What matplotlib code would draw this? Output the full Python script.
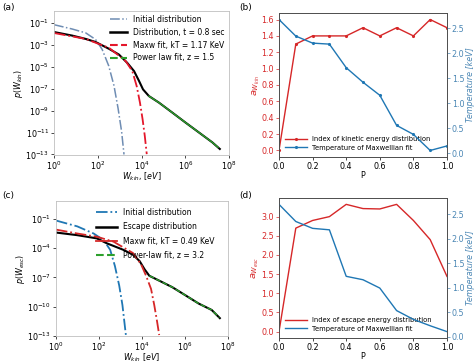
import numpy as np
import matplotlib
matplotlib.use('Agg')
import matplotlib.pyplot as plt
from matplotlib.lines import Line2D
from matplotlib.ticker import NullLocator

plt.rcParams['font.family'] = ['DejaVu Sans']
plt.rcParams['mathtext.fontset'] = 'dejavusans'

# ---------------- data (log10 values) ----------------
# (a) kinetic energy distribution
a_init_lx = [0, 0.84, 1.45, 1.9, 2.2, 2.5, 2.74, 2.93, 3.09, 3.2]
a_init_ly = [-1.15, -1.55, -1.9, -2.5, -3.4, -4.9, -6.7, -8.8, -10.9, -13.0]
a_dist_lx = [0, 0.84, 1.45, 1.9, 2.52, 2.97, 3.35, 3.66, 3.89, 4.07, 4.34, 4.8, 5.41, 6.02, 6.63, 7.24, 7.58]
a_dist_ly = [-1.82, -2.15, -2.45, -2.73, -3.36, -3.88, -4.64, -5.39, -6.3, -7.06, -7.67, -8.27, -9.18, -10.1, -11.0, -11.9, -12.5]
a_maxw_lx = [0, 1.45, 2.52, 3.28, 3.58, 3.78, 3.93, 4.05, 4.15, 4.24]
a_maxw_ly = [-1.91, -2.45, -3.27, -4.48, -5.39, -6.76, -8.27, -9.79, -11.3, -12.97]
a_pow_lx = [4.34, 4.8, 5.41, 6.02, 6.63, 7.24, 7.5]
a_pow_ly = [-7.67, -8.27, -9.18, -10.1, -11.0, -11.9, -12.35]

# (c) escape energy distribution
c_init_lx = [0, 0.99, 1.75, 2.21, 2.52, 2.74, 2.94, 3.09, 3.25]
c_init_ly = [-1.17, -1.77, -2.5, -3.17, -4.17, -5.83, -7.83, -9.83, -12.9]
c_esc_lx = [0, 0.99, 1.9, 2.36, 3.13, 3.58, 3.89, 4.12, 4.34, 4.8, 5.41, 6.02, 6.63, 7.24, 7.62]
c_esc_ly = [-2.4, -2.67, -3.0, -3.5, -4.17, -4.67, -5.33, -6.17, -6.83, -7.33, -8.0, -8.83, -9.67, -10.33, -11.17]
c_maxw_lx = [0, 0.99, 1.9, 2.67, 3.58, 3.96, 4.19, 4.42, 4.57, 4.7, 4.8]
c_maxw_ly = [-2.1, -2.5, -2.83, -3.33, -4.5, -5.67, -6.83, -8.17, -9.83, -11.5, -12.9]
c_pow_lx = [4.34, 4.8, 5.41, 6.02, 6.63, 7.24, 7.6]
c_pow_ly = [-6.83, -7.33, -8.0, -8.83, -9.67, -10.33, -11.1]

# (b), (d) index and temperature vs P
P = [0.0, 0.1, 0.2, 0.3, 0.4, 0.5, 0.6, 0.7, 0.8, 0.9, 1.0]
b_index = [0.0, 1.3, 1.4, 1.4, 1.4, 1.5, 1.4, 1.5, 1.4, 1.6, 1.5]
b_temp = [2.67, 2.34, 2.2, 2.18, 1.71, 1.42, 1.16, 0.56, 0.38, 0.06, 0.15]
d_index = [0.0, 2.7, 2.9, 3.0, 3.32, 3.21, 3.2, 3.32, 2.9, 2.4, 1.44]
d_temp = [2.70, 2.35, 2.21, 2.18, 1.23, 1.16, 0.99, 0.53, 0.35, 0.22, 0.10]

b_yticks = [0.0, 0.2, 0.4, 0.6, 0.8, 1.0, 1.2, 1.4, 1.6]
d_yticks = [0.0, 0.5, 1.0, 1.5, 2.0, 2.5, 3.0]

RED = '#d62728'
BLUE = '#1f77b4'
TBLUE = '#4a86b4'
W, H = 474, 363


def px_axes(fig, left, right, top, bottom):
    return fig.add_axes([left / W, 1 - bottom / H, (right - left) / W, (bottom - top) / H])


def p10(v):
    return 10 ** np.array(v)


fig = plt.figure(figsize=(W / 100, H / 100), dpi=100)
fs = 5.8


def style_log(ax, yticks, xlabel, ylabel):
    ax.set_xscale('log')
    ax.set_yscale('log')
    ax.set_xlim(1e0, 1e8)
    ax.set_xticks([1e0, 1e2, 1e4, 1e6, 1e8])
    ax.set_yticks(yticks)
    ax.xaxis.set_minor_locator(NullLocator())
    ax.yaxis.set_minor_locator(NullLocator())
    ax.tick_params(labelsize=fs, length=2, width=0.5, pad=1.5)
    for s in ax.spines.values():
        s.set_color('0.75')
        s.set_linewidth(0.6)
    ax.set_xlabel(xlabel, fontsize=fs, labelpad=-1)
    ax.set_ylabel(ylabel, fontsize=fs, labelpad=0)


# ---------------- (a) ----------------
ax = px_axes(fig, 54, 229, 11, 155)
ax.plot(p10(a_init_lx), p10(a_init_ly), '-.', color='#6f8db3', lw=1.1)
ax.plot(p10(a_dist_lx), p10(a_dist_ly), '-', color='black', lw=1.5)
ax.plot(p10(a_maxw_lx), p10(a_maxw_ly), '-.', color='#e4172b', lw=1.3)
ax.plot(p10(a_pow_lx), p10(a_pow_ly), '-', color='#2ca02c', lw=1.0)
ax.set_ylim(10 ** -13.05, 10 ** 0.1)
style_log(ax, [1e-13, 1e-11, 1e-9, 1e-7, 1e-5, 1e-3, 1e-1],
          r'$W_{kin}$, $[eV]$', r'$p(W_{kin})$')
hand = [Line2D([], [], ls='-.', color='#6f8db3', lw=1.1),
        Line2D([], [], ls='-', color='black', lw=1.8),
        Line2D([], [], ls='--', color='#e4172b', lw=1.5),
        Line2D([], [], ls='--', color='#2ca02c', lw=1.5)]
ax.legend(hand, ['Initial distribution', 'Distribution, t = 0.8 sec',
                 'Maxw fit, kT = 1.17 KeV', 'Power law fit, z = 1.5'],
          loc='upper left', bbox_to_anchor=(0.28, 1.02), frameon=False,
          fontsize=5.5, handlelength=2.2, labelspacing=0.5)

# ---------------- (c) ----------------
ax = px_axes(fig, 56, 228, 201, 336)
ax.plot(p10(c_init_lx), p10(c_init_ly), '-.', color=BLUE, lw=1.3)
ax.plot(p10(c_esc_lx), p10(c_esc_ly), '-', color='black', lw=1.5)
ax.plot(p10(c_maxw_lx), p10(c_maxw_ly), '-.', color=RED, lw=1.3)
ax.plot(p10(c_pow_lx), p10(c_pow_ly), '--', color='#2ca02c', lw=1.0)
ax.set_ylim(10 ** -13.0, 10 ** 0.83)
style_log(ax, [1e-13, 1e-10, 1e-7, 1e-4, 1e-1],
          r'$W_{kin}$ $[eV]$', r'$p(W_{esc})$')
hand = [Line2D([], [], ls='-.', color=BLUE, lw=1.3),
        Line2D([], [], ls='-', color='black', lw=1.8),
        Line2D([], [], ls='-', color=RED, lw=1.3),
        Line2D([], [], ls='--', color='#2ca02c', lw=1.5)]
ax.legend(hand, ['Initial distribution', 'Escape distribution',
                 'Maxw fit, kT = 0.49 KeV', 'Power-law fit, z = 3.2'],
          loc='upper left', bbox_to_anchor=(0.19, 1.0), frameon=False,
          fontsize=5.5, handlelength=2.8, labelspacing=0.7)


# ---------------- (b), (d) ----------------
def twin_panel(top, bottom, idx, temp, lname, ylab, yticks, marker):
    ax = px_axes(fig, 279, 447, top, bottom)
    ax2 = ax.twinx()
    l1, = ax.plot(P, idx, '-', color=RED, lw=1.0, marker=marker, ms=2.5)
    l2, = ax2.plot(P, temp, '-', color=BLUE, lw=1.0, marker=marker, ms=2.5)
    ax.set_xlim(0, 1)
    ax.set_xticks([0.0, 0.2, 0.4, 0.6, 0.8, 1.0])
    ax.set_yticks(yticks)
    ax.set_xlabel('P', fontsize=fs, labelpad=0)
    ax.set_ylabel(ylab, fontsize=fs + 1, color=RED, labelpad=0)
    ax2.set_ylabel('Temperature [keV]', fontsize=fs, color=TBLUE, style='italic', labelpad=1)
    ax.tick_params(axis='y', colors=RED, labelsize=fs, length=2, width=0.5, pad=1.5)
    ax.tick_params(axis='x', labelsize=fs, length=2, width=0.5, pad=1.5)
    ax2.tick_params(axis='y', colors=TBLUE, labelsize=fs, length=2, width=0.5, pad=1.5)
    for a in (ax, ax2):
        for s in a.spines.values():
            s.set_color('0.3')
            s.set_linewidth(0.6)
    ax.legend([l1, l2], [lname, 'Temperature of Maxwellian fit'], loc='lower left',
              bbox_to_anchor=(0.0, 0.0), frameon=False, fontsize=4.9,
              handlelength=3.2, labelspacing=0.4)
    return ax, ax2


twin_panel(13, 157, b_index, b_temp, 'Index of kinetic energy distribution',
           r'$a_{W_{kin}}$', b_yticks, '.')
twin_panel(198, 338, d_index, d_temp, 'Index of escape energy distribution',
           r'$a_{W_{esc}}$', d_yticks, None)

# panel letters
for txt, x, y in [('(a)', 2, 3), ('(b)', 239, 3), ('(c)', 2, 191), ('(d)', 239, 191)]:
    fig.text(x / W, 1 - y / H, txt, fontsize=6.5, va='top', ha='left')

fig.savefig('out.png', dpi=100)
